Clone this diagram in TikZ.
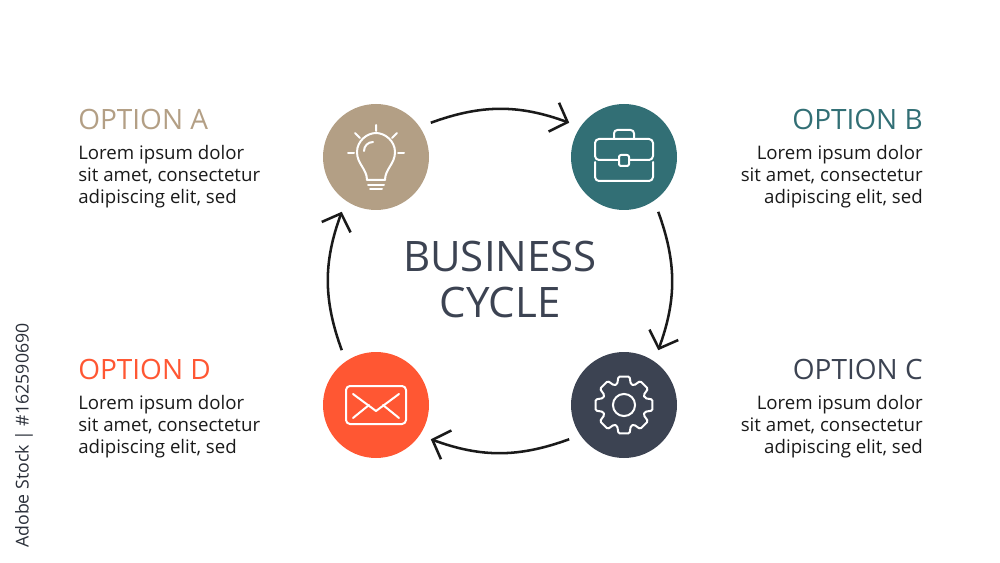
\documentclass[tikz,border=0pt]{standalone}
\usepackage{fontspec}
\setmainfont{Open Sans}
\usetikzlibrary{arrows.meta, positioning}
\definecolor{tanc}{HTML}{B39F85}
\definecolor{tealc}{HTML}{326F75}
\definecolor{darkc}{HTML}{3C4352}
\definecolor{redc}{HTML}{FF5733}
\definecolor{inkc}{HTML}{1A1A1A}
\tikzstyle{cyclearrow} = [line width=1.9pt, draw=inkc, -{Straight Barb[length=11pt,width=23pt,line width=1.9pt]}]
\tikzstyle{stepcircle} = [circle, minimum size=79.5pt, outer sep=8.7pt, inner sep=0pt]
\tikzstyle{icon} = [draw=white, line width=1.5pt, line cap=round, line join=round]
\tikzstyle{opthead} = [font=\fontsize{21}{25}\selectfont, inner sep=0pt]
\tikzstyle{optbody} = [font=\fontsize{14}{16.5}\selectfont, text=inkc, inner sep=0pt]

\begin{document}
\begin{tikzpicture}[x=0.75pt, y=-0.75pt]
   \useasboundingbox (0,0) rectangle (1000,563);

   % Circles of the cycle
   \node[stepcircle, fill=tanc] (optA) at (376,157) {};
   \node[stepcircle, fill=tealc] (optB) at (624,157) {};
   \node[stepcircle, fill=darkc] (optC) at (624,405) {};
   \node[stepcircle, fill=redc] (optD) at (376,405) {};

   % Arrows between the circles
   \draw[cyclearrow] (optA.32) to[bend left=20] (optB.148);
   \draw[cyclearrow] (optB.-58) to[bend left=20] (optC.58);
   \draw[cyclearrow] (optC.212) to[bend left=20] (optD.-32);
   \draw[cyclearrow] (optD.122) to[bend left=20] (optA.238);

   % Bulb
   \begin{scope}[shift={(optA.center)}, icon]
     \draw (-9,23) .. controls (-9,12) and (-19,7) .. (-19,-5)
        .. controls (-19,-16) and (-9,-24) .. (0,-24)
        .. controls (9,-24) and (19,-16) .. (19,-5)
        .. controls (19,7) and (9,12) .. (9,23) -- cycle;
     \draw (-12,-6) .. controls (-12,-11) and (-8,-15) .. (-3,-15);
     \draw (-8,28) -- (8,28);
     \draw (-6,32) -- (6,32);
     \draw (0,-32) -- (0,-26) (-21,-24) -- (-16,-19) (21,-24) -- (16,-19);
     \draw (-28,-4) -- (-22,-4) (22,-4) -- (28,-4);
   \end{scope}

   % Briefcase
   \begin{scope}[shift={(optB.center)}, icon]
     \draw[rounded corners=3pt] (-5,3) -- (-29,3) -- (-29,-18) -- (29,-18) -- (29,3) -- (5,3);
     \draw[rounded corners=3pt] (-29,5) -- (-29,24) -- (29,24) -- (29,5);
     \draw[rounded corners=1.5pt] (-5,-2) rectangle (5,9);
     \draw[rounded corners=2.5pt] (-10,-18) -- (-10,-27) -- (10,-27) -- (10,-18);
   \end{scope}

   % Gear
   \begin{scope}[shift={(optC.center)}, icon]
     \draw (0,0) circle (8.3pt);
     \draw[rounded corners=1pt] (-18:22)
        \foreach \ang in {0,45,...,315} { -- (\ang-18:22) -- (\ang-11:29) -- (\ang+11:29) -- (\ang+18:22) } -- cycle;
   \end{scope}

   % Envelope
   \begin{scope}[shift={(optD.center)}, icon]
     \draw[rounded corners=3pt] (-30,-19) rectangle (30,19);
     \draw (-23,-11) -- (0,6) -- (23,-11);
     \draw (-23,13) -- (-7,0);
     \draw (23,13) -- (7,0);
   \end{scope}

   % Centre title
   \node[font=\fontsize{31.5}{34.5}\selectfont, text=darkc, align=center] (title) at (500,279) {BUSINESS\\CYCLE};

   % Labels on the left
   \node[opthead, text=tanc, anchor=base west] (headA) at (78,130) {OPTION A};
   \node[optbody, align=left, anchor=north west] (bodyA) at (78,145) {Lorem ipsum dolor\\sit amet, consectetur\\adipiscing elit, sed};
   \node[opthead, text=redc, anchor=base west] (headD) at (78,379) {OPTION D};
   \node[optbody, align=left, anchor=north west] (bodyD) at (78,395) {Lorem ipsum dolor\\sit amet, consectetur\\adipiscing elit, sed};

   % Labels on the right
   \node[opthead, text=tealc, anchor=base east] (headB) at (923,130) {OPTION B};
   \node[optbody, align=right, anchor=north east] (bodyB) at (923,145) {Lorem ipsum dolor\\sit amet, consectetur\\adipiscing elit, sed};
   \node[opthead, text=darkc, anchor=base east] (headC) at (923,379) {OPTION C};
   \node[optbody, align=right, anchor=north east] (bodyC) at (923,395) {Lorem ipsum dolor\\sit amet, consectetur\\adipiscing elit, sed};

   % Stock line at the edge
   \node[font=\fontsize{13.3}{16}\selectfont, text=darkc!70!black, rotate=90, anchor=west, inner sep=0pt] (stockline) at (24,548) {Adobe Stock | \#162590690};
\end{tikzpicture}
\end{document}
